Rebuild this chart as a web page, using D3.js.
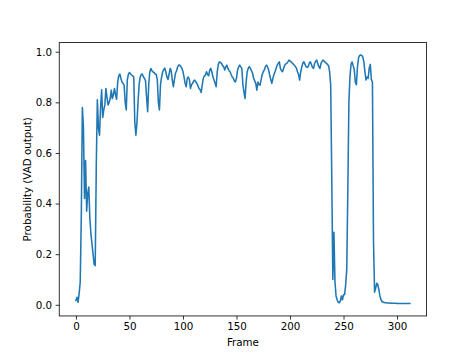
<!DOCTYPE html>
<html>
<head>
<meta charset="utf-8">
<script src="https://cdn.jsdelivr.net/npm/d3@7"></script>
<style>
html,body{margin:0;padding:0;background:#fff;}
svg{display:block;}
text{font-family:"DejaVu Sans",sans-serif;}
</style>
</head>
<body>
<svg id="chart" width="474" height="355"></svg>
<script>
// VAD probability per frame (frames 0..312)
const probability = [
0.017,0.03,0.01,0.045,0.09,0.35,0.78,0.70,0.42,0.57,
0.37,0.44,0.465,0.34,0.28,0.24,0.20,0.16,0.155,0.55,
0.81,0.70,0.67,0.78,0.85,0.74,0.77,0.79,0.855,0.82,
0.79,0.80,0.815,0.848,0.815,0.83,0.855,0.83,0.812,0.88,
0.905,0.912,0.895,0.88,0.875,0.868,0.80,0.77,0.89,0.91,
0.918,0.912,0.908,0.905,0.90,0.72,0.67,0.72,0.80,0.87,
0.90,0.91,0.912,0.90,0.895,0.885,0.82,0.763,0.87,0.92,
0.934,0.925,0.92,0.918,0.912,0.91,0.89,0.80,0.77,0.87,
0.90,0.92,0.93,0.935,0.92,0.90,0.89,0.91,0.934,0.925,
0.888,0.862,0.89,0.915,0.925,0.94,0.947,0.947,0.941,0.935,
0.921,0.90,0.875,0.862,0.895,0.90,0.89,0.855,0.87,0.875,
0.885,0.888,0.88,0.875,0.865,0.855,0.85,0.839,0.87,0.895,
0.905,0.908,0.921,0.91,0.905,0.928,0.934,0.92,0.90,0.888,
0.875,0.862,0.921,0.95,0.96,0.958,0.954,0.945,0.941,0.928,
0.94,0.947,0.934,0.925,0.921,0.91,0.90,0.895,0.885,0.881,
0.895,0.928,0.94,0.947,0.94,0.934,0.868,0.84,0.815,0.88,
0.921,0.935,0.941,0.934,0.925,0.915,0.895,0.885,0.875,0.848,
0.88,0.87,0.868,0.89,0.91,0.921,0.928,0.941,0.947,0.94,
0.928,0.908,0.89,0.875,0.895,0.91,0.921,0.935,0.947,0.954,
0.96,0.934,0.925,0.921,0.935,0.947,0.952,0.954,0.96,0.967,
0.964,0.96,0.955,0.952,0.947,0.941,0.935,0.921,0.91,0.888,
0.921,0.94,0.955,0.96,0.95,0.941,0.938,0.941,0.955,0.96,
0.95,0.938,0.934,0.954,0.962,0.967,0.952,0.94,0.934,0.955,
0.962,0.967,0.962,0.958,0.954,0.95,0.945,0.92,0.87,0.50,
0.10,0.287,0.09,0.035,0.02,0.01,0.008,0.015,0.035,0.02,
0.04,0.04,0.08,0.14,0.45,0.80,0.90,0.95,0.96,0.945,
0.93,0.88,0.87,0.94,0.975,0.985,0.987,0.985,0.98,0.96,
0.92,0.888,0.90,0.895,0.935,0.95,0.89,0.88,0.25,0.05,
0.065,0.085,0.08,0.06,0.035,0.02,0.013,0.01,
0.009,0.008,0.008,0.007,0.007,0.007,0.006,0.006,0.006,0.006,
0.006,0.006,0.005,0.005,0.005,0.005,0.005,0.005,0.005,0.005,
0.005,0.005,0.005,0.005,0.005
];
const frames = probability.map((_, i) => i);
const xTicks = [0, 50, 100, 150, 200, 250, 300];
const yTicks = [0.0, 0.2, 0.4, 0.6, 0.8, 1.0];
const xLabel = "Frame";
const yLabel = "Probability (VAD output)";

const W = 474, H = 355;
const mLeft = 0.125 * W, mRight = 0.9 * W, mTop = (1 - 0.88) * H, mBottom = (1 - 0.11) * H;

const xExt = d3.extent(frames), yExt = d3.extent(probability);
const xPad = (xExt[1] - xExt[0]) * 0.05, yPad = (yExt[1] - yExt[0]) * 0.05;
const x = d3.scaleLinear().domain([xExt[0] - xPad, xExt[1] + xPad]).range([mLeft, mRight]);
const y = d3.scaleLinear().domain([yExt[0] - yPad, yExt[1] + yPad]).range([mBottom, mTop]);

const svg = d3.select("#chart");
const fs = 10.3;

const line = d3.line().x((d, i) => x(frames[i])).y(d => y(d));
svg.append("path").datum(probability)
  .attr("d", line).attr("fill", "none").attr("stroke", "#1f77b4")
  .attr("stroke-width", 1.55).attr("stroke-linejoin", "round").attr("stroke-linecap", "square");

const gx = svg.append("g").attr("transform", `translate(0,${mBottom})`)
  .call(d3.axisBottom(x).tickValues(xTicks).tickFormat(d3.format("d")).tickSizeInner(3.6).tickSizeOuter(0).tickPadding(3.6));
const gy = svg.append("g").attr("transform", `translate(${mLeft},0)`)
  .call(d3.axisLeft(y).tickValues(yTicks).tickFormat(d3.format(".1f")).tickSizeInner(3.6).tickSizeOuter(0).tickPadding(3.6));
[gx, gy].forEach(g => {
  g.select(".domain").remove();
  g.selectAll("line").attr("stroke", "#000").attr("stroke-width", 0.8);
  g.selectAll("text").attr("fill", "#000").style("font-size", fs + "px").style("font-family", '"DejaVu Sans", sans-serif');
});

svg.append("rect").attr("x", mLeft).attr("y", mTop).attr("width", mRight - mLeft).attr("height", mBottom - mTop)
  .attr("fill", "none").attr("stroke", "#000").attr("stroke-width", 0.8);

svg.append("text").attr("x", (mLeft + mRight) / 2).attr("y", 345.5).attr("text-anchor", "middle")
  .style("font-size", fs + "px").text(xLabel);
svg.append("text").attr("transform", `translate(30.5,${(mTop + mBottom) / 2}) rotate(-90)`).attr("text-anchor", "middle")
  .style("font-size", fs + "px").text(yLabel);
</script>
</body>
</html>
